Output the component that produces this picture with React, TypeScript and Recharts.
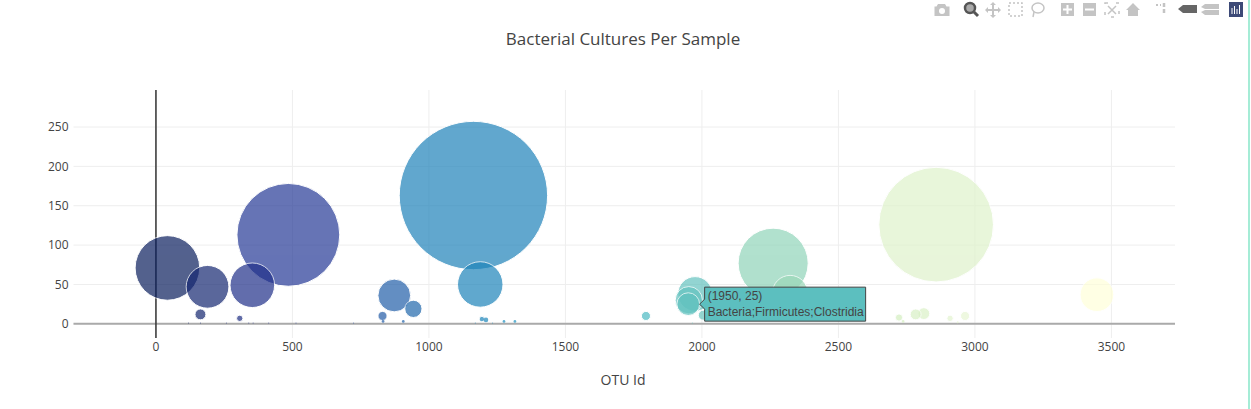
import React from 'react';
import {
  CartesianGrid,
  ReferenceDot,
  ReferenceLine,
  Scatter,
  ScatterChart,
  XAxis,
  YAxis,
} from 'recharts';

// Bubble chart of one sample: x = OTU id, y and bubble diameter = sample value.

const otuIds = [
  1163, 2858, 485, 2261, 42, 353, 1188, 189, 1975, 2323, 3447, 873, 1952, 1950, 943, 163, 2813, 2783, 1795, 2005,
  830, 2964, 2722, 2909, 307, 1194, 1209, 2737, 1275, 1315, 2937, 906, 832, 119, 163, 258, 340, 356, 413, 513, 724,
  1170, 1233, 1965,
];
const sampleValues = [
  163, 126, 113, 77, 71, 49, 50, 47, 38, 39, 37, 36, 30, 25, 19, 12, 13, 12, 10, 11,
  10, 10, 8, 7, 7, 6, 5, 3, 3, 3, 2, 3, 3, 1, 1, 1, 1, 1, 1, 1, 1,
  1, 1, 1,
];

const xTicks = [0, 500, 1000, 1500, 2000, 2500, 3000, 3500];
const yTicks = [0, 50, 100, 150, 200, 250];

const hoverPoint = { x: 1950, y: 25, label: 'Bacteria;Firmicutes;Clostridia' };

// YlGnBu reversed, spread over the id range
const COLORSCALE = [
  [8, 29, 88],
  [37, 52, 148],
  [34, 94, 168],
  [29, 145, 192],
  [65, 182, 196],
  [127, 205, 187],
  [199, 233, 180],
  [237, 248, 217],
  [255, 255, 217],
];
const MAX_ID = 3450;
const PX_PER_VALUE = 0.455;

const data = otuIds.map((id, i) => ({ id, value: sampleValues[i] }));

function colorFor(id: number) {
  const t = (Math.max(0, Math.min(id, MAX_ID)) / MAX_ID) * (COLORSCALE.length - 1);
  const lo = Math.min(Math.floor(t), COLORSCALE.length - 2);
  const f = t - lo;
  const c = COLORSCALE[lo].map((v, k) => Math.round(v + (COLORSCALE[lo + 1][k] - v) * f));
  return `rgb(${c[0]},${c[1]},${c[2]})`;
}

function Bubble(props: any) {
  const { cx, cy, payload } = props;
  return (
    <circle
      cx={cx}
      cy={cy}
      r={Math.max(payload.value * PX_PER_VALUE, 0.5)}
      fill={colorFor(payload.id)}
      stroke="#fff"
      strokeWidth={payload.value < 6 ? 0 : 1}
      opacity={0.7}
    />
  );
}

function HoverLabel(props: any) {
  const { cx, cy } = props;
  const tip = cx + hoverPoint.y * PX_PER_VALUE;
  const left = tip + 5;
  const w = 161;
  const top = cy - 17;
  const h = 34;
  const path = `M${tip},${cy} L${left},${cy - 5} V${top} H${left + w} V${top + h} H${left} V${cy + 5} Z`;
  return (
    <g style={{ fontFamily: '"Liberation Sans", Arial, sans-serif', fontSize: 12 }}>
      <path d={path} fill="#5cbfbf" stroke="#444" strokeWidth={1} />
      <text x={left + 3} y={top + 13} fill="#444">
        ({hoverPoint.x}, {hoverPoint.y})
      </text>
      <text x={left + 3} y={top + 29} fill="#444">
        {hoverPoint.label}
      </text>
    </g>
  );
}

function ModeBar() {
  const g = '#c4c4c4';
  return (
    <svg width={331} height={25} style={{ position: 'absolute', left: 920, top: 0 }}>
      {/* camera */}
      <path d="M18,4 h7 l1.5,2.5 h3 v9.5 h-15 v-9.5 h2 z" fill={g} />
      <circle cx={22} cy={11} r={3} fill="#fff" />
      {/* zoom */}
      <circle cx={50} cy={8} r={5} fill="#aaa" stroke="#555" strokeWidth={2.5} />
      <path d="M54,12 L58,16" stroke="#555" strokeWidth={3} />
      {/* pan */}
      <path d="M73,4 V16 M67,10 H79" stroke={g} strokeWidth={2} />
      <path d="M73,2 L70,5 H76 Z M73,18 L70,15 H76 Z M65,10 L68,7 V13 Z M81,10 L78,7 V13 Z" fill={g} />
      {/* box select */}
      <rect x={89} y={3} width={13} height={13} fill="none" stroke={g} strokeWidth={1.5} strokeDasharray="2 2" />
      {/* lasso */}
      <ellipse cx={118} cy={8} rx={6} ry={5} fill="none" stroke={g} strokeWidth={1.5} />
      <path d="M114,12 L113,17" stroke={g} strokeWidth={1.5} />
      {/* zoom in / out */}
      <rect x={141} y={3} width={13} height={13} fill={g} />
      <path d="M143,9.5 H152 M147.5,5 V14" stroke="#fff" strokeWidth={2} />
      <rect x={163} y={3} width={13} height={13} fill={g} />
      <path d="M165,9.5 H174" stroke="#fff" strokeWidth={2} />
      {/* autoscale */}
      <rect x={185} y={3} width={14} height={14} fill="none" stroke={g} strokeWidth={1.5} strokeDasharray="3 8" />
      <path d="M188,6 L196,14 M196,6 L188,14" stroke={g} strokeWidth={1.5} />
      {/* home */}
      <path d="M213,3 L220,10 H218 V16 H208 V10 H206 Z" fill={g} />
      {/* spikes */}
      <path d="M244,3 V15" stroke={g} strokeWidth={2.5} strokeDasharray="4 2" />
      <path d="M236,5 H241" stroke={g} strokeWidth={2} strokeDasharray="2 2" />
      {/* hover closest / compare */}
      <path d="M258,9 L263,5 H277 V13 H263 Z" fill="#666" />
      <path d="M281,7 L285,4 H299 V9 H285 Z M281,12 L285,10 H299 V15 H285 Z" fill={g} />
      {/* logo */}
      <rect x={309} y={2} width={14} height={15} fill="#3d4a77" />
      <path d="M312,8 V14 M314.5,6 V14 M317,9 V14 M319.5,5 V14" stroke="#fff" strokeWidth={1} />
    </svg>
  );
}

export default function App() {
  return (
    <div style={{ position: 'absolute', left: 0, top: 0, width: 1251, height: 409, background: '#fff', overflow: 'hidden' }}>
      <ScatterChart width={1251} height={409} margin={{ top: 90, right: 76, bottom: 41, left: 0.5 }}>
        <CartesianGrid stroke="#eeeeee" strokeWidth={1} horizontalValues={yTicks} verticalValues={xTicks} />
        <XAxis
          type="number"
          dataKey="id"
          domain={[-302, 3733]}
          ticks={xTicks}
          allowDataOverflow
          axisLine={false}
          tickLine={false}
          height={30}
          interval={0}
          tickSize={4}
          tick={{ fontSize: 12, fill: '#444', fontFamily: '"Open Sans", sans-serif' }}
          tickMargin={0}
        />
        <YAxis
          type="number"
          dataKey="value"
          domain={[-18, 297]}
          ticks={yTicks}
          allowDataOverflow
          axisLine={false}
          tickLine={false}
          width={73}
          interval={0}
          tickSize={5}
          tick={{ fontSize: 12, fill: '#444', fontFamily: '"Open Sans", sans-serif' }}
          tickMargin={0}
        />
        <ReferenceLine y={0} stroke="#aaaaaa" strokeWidth={2} />
        <ReferenceLine x={0} stroke="#333333" strokeWidth={1.5} />
        <Scatter data={data} shape={Bubble} isAnimationActive={false} />
        <ReferenceDot x={hoverPoint.x} y={hoverPoint.y} r={0} shape={HoverLabel} />
        <text
          x={623}
          y={45}
          textAnchor="middle"
          fontSize={17}
          fill="#444"
          fontFamily='"Open Sans", sans-serif'
        >
          Bacterial Cultures Per Sample
        </text>
        <text
          x={623}
          y={385}
          textAnchor="middle"
          fontSize={14}
          fill="#444"
          fontFamily='"Open Sans", sans-serif'
        >
          OTU Id
        </text>
      </ScatterChart>
      <ModeBar />
      <div style={{ position: 'absolute', left: 1248, top: 0, width: 2, height: 409, background: '#a5ecd6' }} />
    </div>
  );
}
